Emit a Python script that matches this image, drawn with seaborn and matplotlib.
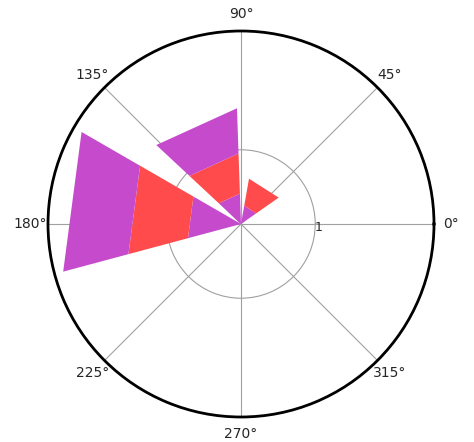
import numpy as np
import matplotlib
matplotlib.use("Agg")
import matplotlib.pyplot as plt
import seaborn as sns

# wedge angular extents (degrees)
theta_start = [35, 92, 150]
theta_end = [80, 137, 195]
# stacked segment lengths per wedge
seg1 = [0.25, 0.41, 0.74]   # purple inner
seg2 = [0.37, 0.54, 0.83]   # red
seg3 = [0.0, 0.61, 0.91]    # purple outer
seg_colors = ["#c54bcc", "#ff4b4b", "#c54bcc"]
r_max = 2.6

sns.set_style("white")
plt.rcParams['font.family'] = ['DejaVu Sans']

fig = plt.figure(figsize=(4.74, 4.42), dpi=100)
R = 193
ax = fig.add_axes([(241 - R) / 474, (218 - R) / 442, 2 * R / 474, 2 * R / 442], projection="polar")

for i in range(len(theta_start)):
    t1, t2 = np.deg2rad(theta_start[i]), np.deg2rad(theta_end[i])
    base = 0.0
    for seg, col in zip([seg1, seg2, seg3], seg_colors):
        top = base + seg[i]
        if seg[i] > 0:
            ax.fill([t1, t1, t2, t2], [base, top, top, base], color=col, lw=0, zorder=3)
        base = top

ax.set_ylim(0, r_max)
ax.set_yticks([1])
ax.set_yticklabels(["1"], fontsize=9)
ax.set_rlabel_position(-8)
ax.set_xticks(np.deg2rad(np.arange(0, 360, 45)))
ax.set_xticklabels([f"{d}°" for d in range(0, 360, 45)], fontsize=10)
ax.tick_params(axis="x", pad=2)
ax.grid(True, color="#a0a0a0", lw=0.8)
ax.spines["polar"].set_color("black")
ax.spines["polar"].set_linewidth(2)

fig.savefig("out.png", dpi=100)
